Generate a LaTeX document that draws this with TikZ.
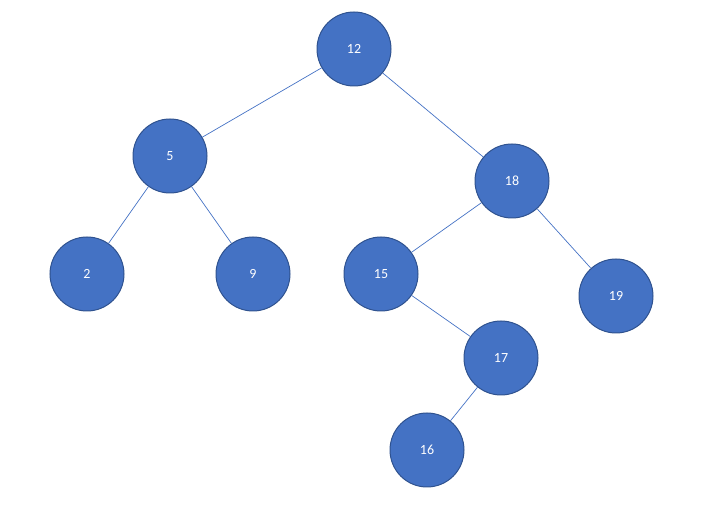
\documentclass[tikz,border=0pt]{standalone}
\usepackage{fontspec}
\setmainfont{Carlito}
\definecolor{nodefill}{HTML}{4472C4}
\definecolor{nodeborder}{HTML}{2F528F}
\begin{document}
\begin{tikzpicture}[x=1pt,y=-1pt,
  tn/.style={circle,fill=nodefill,draw=nodeborder,line width=1pt,minimum size=74pt,inner sep=0pt,text=white,font=\fontsize{14}{16}\selectfont},
  edge/.style={draw=nodefill,line width=0.7pt}]
\useasboundingbox (0,0) rectangle (713,518);
\node[tn] (n12) at (354,49) {12};
\node[tn] (n5) at (170,156) {5};
\node[tn] (n18) at (512,181) {18};
\node[tn] (n2) at (87,274) {2};
\node[tn] (n9) at (253,274) {9};
\node[tn] (n15) at (381,274) {15};
\node[tn] (n19) at (616,296) {19};
\node[tn] (n17) at (501,358) {17};
\node[tn] (n16) at (427,450) {16};
\draw[edge] (n12) -- (n5);
\draw[edge] (n12) -- (n18);
\draw[edge] (n5) -- (n2);
\draw[edge] (n5) -- (n9);
\draw[edge] (n18) -- (n15);
\draw[edge] (n18) -- (n19);
\draw[edge] (n15) -- (n17);
\draw[edge] (n17) -- (n16);
\end{tikzpicture}
\end{document}
